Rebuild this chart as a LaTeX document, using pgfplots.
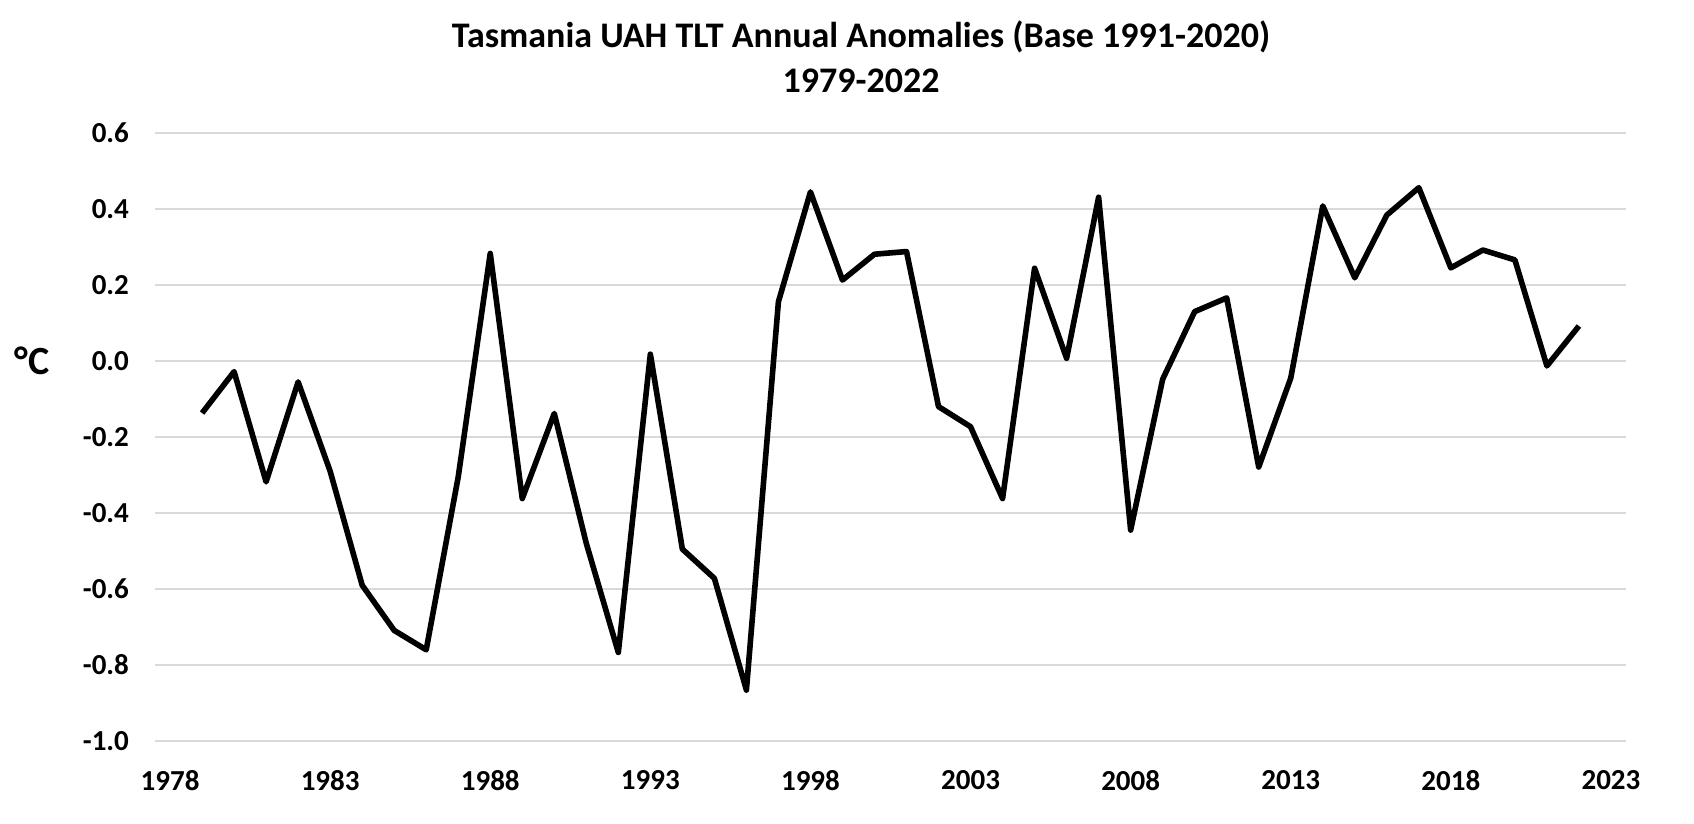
\documentclass[border=0pt]{standalone}
\usepackage{fontspec}
\setmainfont{Carlito}
\usepackage{pgfplots}
\pgfplotsset{compat=1.18}
\usepackage{pgfplotstable}
\definecolor{gridgray}{HTML}{D9D9D9}

\pgfplotstableread{
year anom
1979 -0.137
1980 -0.028
1981 -0.318
1982 -0.055
1983 -0.29
1984 -0.59
1985 -0.709
1986 -0.76
1987 -0.305
1988 0.283
1989 -0.362
1990 -0.138
1991 -0.48
1992 -0.767
1993 0.018
1994 -0.495
1995 -0.572
1996 -0.866
1997 0.156
1998 0.445
1999 0.213
2000 0.281
2001 0.288
2002 -0.12
2003 -0.173
2004 -0.362
2005 0.244
2006 0.007
2007 0.431
2008 -0.445
2009 -0.048
2010 0.130
2011 0.166
2012 -0.279
2013 -0.045
2014 0.408
2015 0.219
2016 0.384
2017 0.456
2018 0.245
2019 0.292
2020 0.266
2021 -0.013
2022 0.092
}\tasdata

\begin{document}
\begin{tikzpicture}
% fix the page to the reference proportions (2 px per pt)
\useasboundingbox (-77.5pt,-41.5pt) rectangle (769.5pt,370.5pt);
\begin{axis}[
    at={(0,0)}, anchor=south west,
    scale only axis,
    width=735.5pt, height=304pt,
    xmin=1977.53, xmax=2023.47,
    ymin=-1.0, ymax=0.6,
    xtick={1978,1983,...,2023},
    ytick={-1.0,-0.8,...,0.61},
    major tick length=0pt,
    axis line style={draw=none},
    ymajorgrids,
    grid style={gridgray, line width=1pt},
    tick label style={font=\bfseries\fontsize{14.5}{17}\selectfont},
    xticklabel style={yshift=-11pt, /pgf/number format/1000 sep={}},
    yticklabel style={xshift=-9.5pt, /pgf/number format/.cd, fixed, zerofill, precision=1},
    /pgf/number format/assume math mode=true,
    title={Tasmania UAH TLT Annual Anomalies (Base 1991-2020)\\1979-2022},
    title style={font=\bfseries\fontsize{18}{22.5}\selectfont, align=center,
        at={(axis description cs:0.48,1)}, anchor=south, inner sep=0pt, yshift=14pt},
    ylabel={°C},
    ylabel style={rotate=-90, font=\bfseries\fontsize{20}{22}\selectfont,
        at={(axis description cs:-0.0836,0.625)}, anchor=center},
]
\addplot[black, line width=2.8pt, line join=round] table[x=year, y=anom] {\tasdata};
\end{axis}
\end{tikzpicture}
\end{document}
